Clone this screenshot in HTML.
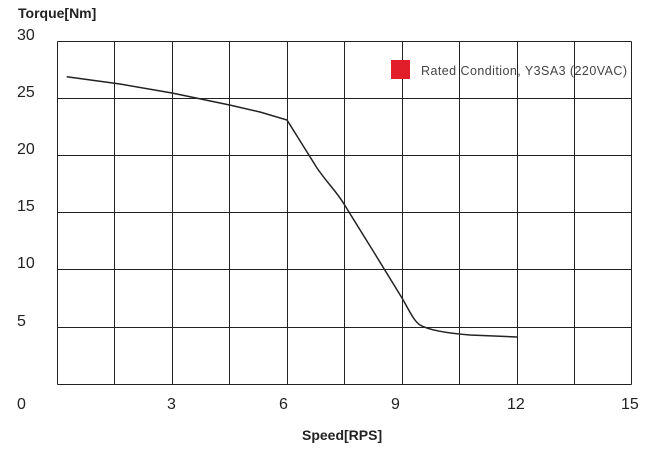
<!DOCTYPE html>
<html><head><style>body{margin:0;background:#fff}svg{display:block}</style></head><body>
<svg width="650" height="452" xmlns="http://www.w3.org/2000/svg" font-family="Liberation Sans, sans-serif">
<g stroke="#222" stroke-width="1" fill="none">
<path d="M57.5 41.5H631.5M57.5 98.5H631.5M57.5 155.5H631.5M57.5 212.5H631.5M57.5 269.5H631.5M57.5 327.5H631.5M57.5 384.5H631.5"/>
<path d="M57.5 41.5V384.5M114.5 41.5V384.5M172.5 41.5V384.5M229.5 41.5V384.5M287.5 41.5V384.5M344.5 41.5V384.5M402.5 41.5V384.5M459.5 41.5V384.5M517.5 41.5V384.5M574.5 41.5V384.5M631.5 41.5V384.5"/>
</g>
<path d="M66.7 76.7 L120 84 L172 93 L229.6 105 L260 112 L287 120 L302 144 L317 168 C328 184 337 192 344.6 205 L375 254 L402 298 C410 312 414 321 420 325 Q432 332 470 335 L517 337" stroke="#222" stroke-width="1.5" fill="none"/>
<rect x="391" y="60" width="19" height="19" fill="#e31e2b"/>
<text x="421" y="75" font-size="12.5" fill="#444" textLength="206">Rated Condition, Y3SA3 (220VAC)</text>
<g font-size="16" fill="#222">
<text x="17" y="40">30</text><text x="17" y="97">25</text><text x="17" y="154">20</text><text x="17" y="211">15</text><text x="17" y="268">10</text><text x="17" y="326">5</text>
<text x="17" y="409">0</text><text x="167" y="409">3</text><text x="279" y="409">6</text><text x="391" y="409">9</text><text x="507" y="409">12</text><text x="621" y="409">15</text>
</g>
<text x="18" y="18" font-size="14" font-weight="bold" fill="#222">Torque[Nm]</text>
<text x="302" y="440" font-size="14" font-weight="bold" fill="#222">Speed[RPS]</text>
</svg>
</body></html>
